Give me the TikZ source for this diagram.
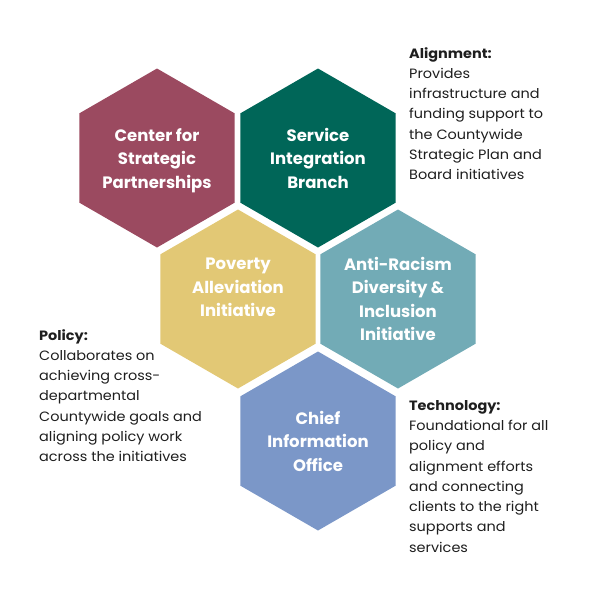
\documentclass[tikz,border=0pt]{standalone}
\usepackage{fontspec}
\setmainfont{Poppins}
\newfontfamily\notefont[FakeStretch=1.07]{Poppins}
\usetikzlibrary{shapes.geometric}

\definecolor{hexmaroon}{RGB}{155,74,96}
\definecolor{hexgreen}{RGB}{0,102,88}
\definecolor{hexyellow}{RGB}{226,200,117}
\definecolor{hexteal}{RGB}{114,171,182}
\definecolor{hexblue}{RGB}{123,151,200}
\definecolor{bodytext}{RGB}{30,30,30}

\begin{document}
\begin{tikzpicture}[
        x=1pt, y=-1pt,
        hexa/.style={regular polygon, regular polygon sides=6, shape border rotate=30,
            minimum size=179pt, inner sep=0pt, outer sep=0pt, align=center, text=white,
            font=\fontsize{16.5}{23.5}\selectfont\bfseries},
        hextext/.style={align=center, text=white, inner sep=0pt,
            font=\fontsize{16.5}{23.5}\selectfont\bfseries},
        note/.style={anchor=north west, align=left, inner sep=0pt, text=bodytext,
            font=\notefont\fontsize{13.5}{20.3}\selectfont}
    ]
    \useasboundingbox (0,0) rectangle (600,600);

    % hexagons
    \node[hexa, fill=hexmaroon] (csp) at (157,158) {};
    \node[hextext] (csptext) at ([yshift=-2.5pt]csp.center) {Center for\\Strategic\\Partnerships};
    \node[hexa, fill=hexgreen] (sib) at (318,158) {Service\\Integration\\Branch};
    \node[hexa, fill=hexyellow] (pai) at (238,299) {};
    \node[hextext] (paitext) at ([yshift=11.5pt]pai.center) {Poverty\\Alleviation\\Initiative};
    \node[hexa, fill=hexteal] (ardi) at (398,299) {Anti-Racism\\Diversity \&\\Inclusion\\Initiative};
    \node[hexa, fill=hexblue] (cio) at (318,441) {Chief\\Information\\Office};

    % side notes
    \node[note] (align) at (409,47) {{\bfseries Alignment:}\\Provides\\infrastructure and\\funding support to\\the Countywide\\Strategic Plan and\\Board initiatives};
    \node[note] (policy) at (39,329) {{\bfseries Policy:}\\Collaborates on\\achieving cross-\\departmental\\Countywide goals and\\aligning policy work\\across the initiatives};
    \node[note] (tech) at (409,400) {{\bfseries Technology:}\\Foundational for all\\policy and\\alignment efforts\\and connecting\\clients to the right\\supports and\\services};
\end{tikzpicture}
\end{document}
